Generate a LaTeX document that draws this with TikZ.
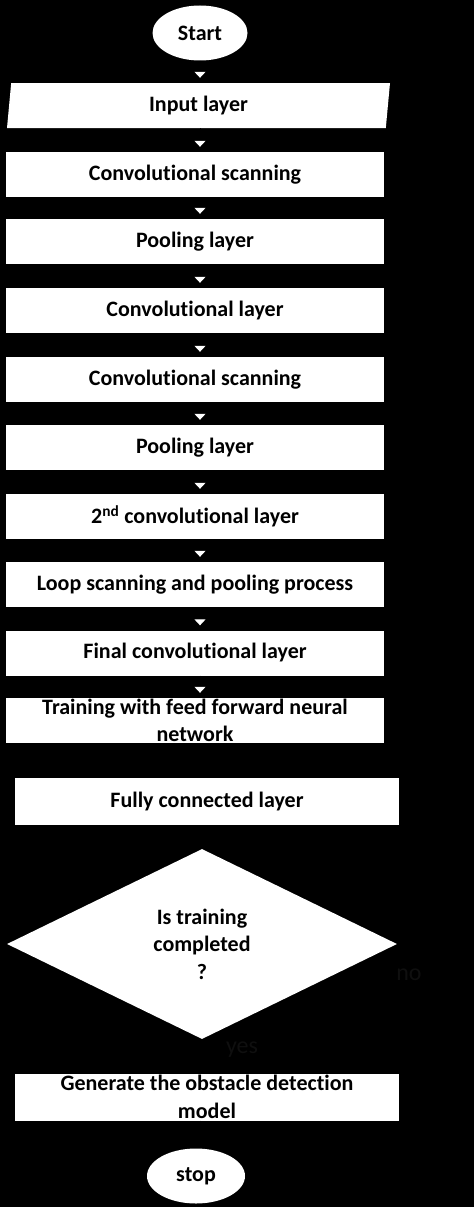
\documentclass[tikz,border=0pt]{standalone}
\usepackage{fontspec}
\setmainfont[Ligatures=NoCommon]{Carlito}
\usetikzlibrary{shapes.geometric,arrows.meta}
\begin{document}
\begin{tikzpicture}
        [
        x=1pt, y=-1pt,
        every node/.style={font=\bfseries\fontsize{22}{27.5}\selectfont},
        terminal/.style={ellipse, fill=white, minimum width=95pt, minimum height=55pt, inner sep=0pt},
        inbox/.style={trapezium, trapezium left angle=77.5, trapezium right angle=102.5, trapezium stretches body, fill=white, minimum width=383pt, minimum height=45pt, inner sep=0pt},
        proc/.style={rectangle, fill=white, minimum width=378pt, minimum height=45pt, inner sep=0pt},
        wideproc/.style={proc, minimum width=384pt, minimum height=47pt},
        decision/.style={diamond, aspect=2, fill=white, minimum width=390pt, minimum height=190pt, inner sep=0pt, align=center},
        flow/.style={draw=black, line width=1pt, shorten >=5pt, -{Triangle[length=6pt,width=11pt,white]}},
        flowdark/.style={draw=black, line width=1pt, shorten >=3pt, -{Triangle[length=6pt,width=11pt,black]}},
        faint/.style={font=\fontsize{24}{26}\selectfont, text=black!94!white},
        ]
        \fill[black] (0,0) rectangle (474,1207);
        \coordinate (axis) at (200,0);
	    \node[terminal] (start) at (200,33) {Start};
	    \node[inbox] (input) at (198.5,105.5) {Input layer};
	    \node[proc] (scan1) at (195,174.5) {Convolutional scanning};
	    \node[proc] (pool1) at (195,241.5) {Pooling layer};
	    \node[proc] (conv) at (195,310.5) {Convolutional layer};
	    \node[proc] (scan2) at (195,379.5) {Convolutional scanning};
	    \node[proc] (pool2) at (195,447.5) {Pooling layer};
	    \node[proc] (conv2) at (195,516.5) {2\textsuperscript{nd} convolutional layer};
	    \node[proc] (loop) at (195,584.5) {Loop scanning and pooling process};
	    \node[proc] (final) at (195,653) {Final convolutional layer};
	    \node[proc, label={[align=center]center:Training with feed forward neural\\network}] (train) at (195,720.5) {};
	    \node[wideproc] (fully) at (207,801.5) {Fully connected layer};
	    \node[decision] (check) at (202,944) {Is training\\completed\\?};
	    \node[wideproc, label={[align=center]center:Generate the obstacle detection\\model}] (generate) at (207,1097) {};
	    \node[terminal, minimum width=98pt] (stop) at (196,1176) {stop};
	    \node[faint] (yes) at (242,1050) {yes};
	    \node[faint] (no) at (409,975) {no};

        \draw[flow] (start.south -| axis) -- (input.north -| axis);
        \draw[flow] (input.south -| axis) -- (scan1.north -| axis);
        \draw[flow] (scan1.south -| axis) -- (pool1.north -| axis);
        \draw[flow] (pool1.south -| axis) -- (conv.north -| axis);
        \draw[flow] (conv.south -| axis) -- (scan2.north -| axis);
        \draw[flow] (scan2.south -| axis) -- (pool2.north -| axis);
        \draw[flow] (pool2.south -| axis) -- (conv2.north -| axis);
        \draw[flow] (conv2.south -| axis) -- (loop.north -| axis);
        \draw[flow] (loop.south -| axis) -- (final.north -| axis);
        \draw[flow] (final.south -| axis) -- (train.north -| axis);
        \draw[flowdark] (train.south -| axis) -- (fully.north -| axis);
        \draw[flowdark] (fully.south -| axis) -- (check.north);
        \draw[flowdark] (check.south) -- (generate.north -| check.south);
        \draw[flowdark] (generate.south -| axis) -- (stop.north -| axis);
        \draw[flowdark] (check.east) -- ++(40,0) |- (train.east);
\end{tikzpicture}
\end{document}
